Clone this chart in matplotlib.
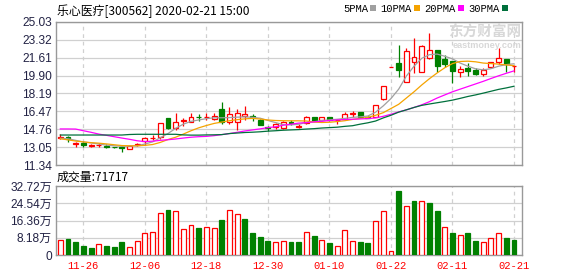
import matplotlib
matplotlib.use("Agg")
import matplotlib.pyplot as plt
from matplotlib.lines import Line2D
import numpy as np

plt.rcParams['font.family'] = ['Liberation Sans', 'Noto Sans CJK SC']

# trading days shown (2019-11-21 .. 2020-02-21)
dates = ['11-21', '11-22', '11-25', '11-26', '11-27', '11-28', '11-29', '12-02', '12-03', '12-04',
         '12-05', '12-06', '12-09', '12-10', '12-11', '12-12', '12-13', '12-16', '12-17', '12-18',
         '12-19', '12-20', '12-23', '12-24', '12-25', '12-26', '12-27', '12-30', '12-31', '01-02',
         '01-03', '01-06', '01-07', '01-08', '01-09', '01-10', '01-13', '01-14', '01-15', '01-16',
         '01-17', '01-20', '01-21', '01-22', '01-23', '02-03', '02-04', '02-05', '02-06', '02-07',
         '02-10', '02-11', '02-12', '02-13', '02-14', '02-17', '02-18', '02-19', '02-20', '02-21']

opens = [13.94, 14.05, 13.36, 13.41, 13.18, 13.22, 13.19, 13.08, 13.03, 12.90,
         13.25, 13.67, 13.93, 14.00, 15.81, 14.88, 15.55, 15.49, 15.95, 15.90,
         15.75, 16.70, 15.49, 15.46, 16.00, 16.00, 15.68, 15.02, 14.98, 14.85,
         15.45, 14.98, 15.33, 15.91, 15.65, 15.91, 15.65, 15.72, 16.19, 16.44,
         15.95, 15.95, 17.65, 20.69, 21.13, 19.26, 21.17, 20.22, 21.55, 22.35,
         21.49, 21.30, 20.27, 20.66, 20.43, 20.05, 20.69, 21.23, 21.46, 20.80]
closes = [13.98, 13.80, 13.40, 13.29, 13.23, 13.27, 13.09, 13.02, 12.98, 13.19,
          13.35, 13.90, 13.96, 15.33, 14.85, 15.43, 15.62, 15.95, 15.90, 15.93,
          16.06, 15.43, 16.20, 16.29, 16.20, 15.90, 15.17, 14.93, 15.24, 15.49,
          15.40, 15.05, 15.97, 15.58, 15.91, 15.62, 15.68, 16.20, 16.29, 15.91,
          15.88, 17.05, 18.90, 20.69, 20.43, 22.25, 21.68, 22.73, 22.35, 20.85,
          21.04, 20.37, 20.50, 20.37, 20.02, 20.43, 21.17, 21.61, 20.98, 20.85]
highs = [14.28, 14.08, 13.57, 13.61, 13.35, 13.42, 13.32, 13.10, 13.13, 13.25,
         13.48, 14.05, 14.22, 15.35, 15.81, 16.29, 15.81, 16.29, 16.22, 16.29,
         16.29, 17.34, 16.86, 16.67, 17.02, 16.22, 15.70, 15.03, 15.39, 15.55,
         15.65, 15.27, 16.03, 15.93, 15.97, 15.93, 15.72, 16.38, 16.51, 16.46,
         16.05, 17.10, 18.93, 20.69, 22.83, 22.57, 23.47, 22.83, 24.01, 22.37,
         21.87, 21.32, 20.82, 21.08, 20.66, 20.66, 21.23, 22.51, 21.48, 20.86]
lows = [13.80, 13.51, 13.03, 13.09, 13.10, 13.06, 12.99, 12.98, 12.56, 12.88,
        13.16, 13.25, 13.74, 13.85, 14.83, 14.69, 15.10, 15.45, 15.55, 15.65,
        15.65, 15.24, 15.27, 14.69, 15.65, 15.55, 15.15, 14.62, 14.76, 14.83,
        15.17, 14.85, 15.30, 15.55, 15.55, 15.58, 15.30, 15.65, 15.91, 15.90,
        15.85, 15.90, 17.60, 20.69, 19.79, 19.24, 20.12, 20.20, 21.53, 20.27,
        20.75, 19.22, 19.79, 19.86, 20.00, 19.86, 20.60, 20.98, 20.27, 20.22]
# volume in 万 shares
volumes = [6.99, 7.47, 6.04, 4.45, 3.18, 5.40, 4.45, 3.65, 6.04, 3.97,
           6.51, 10.32, 11.12, 19.70, 21.28, 20.65, 12.55, 14.45, 12.71, 13.50,
           13.02, 16.52, 21.12, 19.38, 17.00, 10.32, 8.42, 6.51, 6.35, 6.83,
           6.04, 6.04, 11.12, 8.89, 7.31, 5.56, 4.45, 12.07, 6.83, 6.04,
           5.56, 16.36, 20.65, 2.06, 30.34, 23.19, 25.58, 25.42, 24.62, 20.81,
           13.50, 10.32, 9.69, 10.32, 6.51, 6.35, 8.26, 10.64, 7.94, 7.1717]

ma5 = [13.90, 13.85, 13.70, 13.55, 13.45, 13.35, 13.24, 13.18, 13.13, 13.15,
       13.18, 13.35, 13.55, 13.95, 14.35, 14.85, 15.25, 15.52, 15.65, 15.78,
       15.86, 15.86, 15.88, 15.92, 15.95, 15.90, 15.82, 15.60, 15.40, 15.20,
       15.18, 15.24, 15.40, 15.48, 15.60, 15.66, 15.72, 15.80, 15.90, 15.95,
       16.03, 16.40, 17.00, 17.70, 18.60, 19.85, 20.80, 21.55, 21.90, 21.96,
       21.75, 21.50, 21.10, 20.80, 20.55, 20.45, 20.56, 20.80, 20.95, 21.03]
ma10 = [13.85, 13.75, 13.63, 13.55, 13.48, 13.43, 13.36, 13.28, 13.20, 13.18,
        13.18, 13.22, 13.30, 13.50, 13.78, 14.00, 14.30, 14.62, 14.90, 15.12,
        15.32, 15.45, 15.58, 15.68, 15.76, 15.80, 15.74, 15.65, 15.60, 15.58,
        15.57, 15.57, 15.55, 15.45, 15.41, 15.43, 15.50, 15.58, 15.70, 15.80,
        15.90, 16.10, 16.35, 16.75, 17.15, 17.75, 18.35, 19.00, 19.60, 20.15,
        20.65, 21.05, 21.25, 21.28, 21.22, 21.10, 21.05, 21.00, 20.92, 20.85]
ma20 = [14.79, 14.79, 14.78, 14.62, 14.47, 14.30, 14.18, 14.05, 13.92, 13.80,
        13.66, 13.58, 13.62, 13.70, 13.76, 13.83, 13.92, 14.00, 14.05, 14.08,
        14.15, 14.25, 14.35, 14.47, 14.60, 14.70, 14.80, 14.92, 15.00, 15.15,
        15.25, 15.35, 15.40, 15.47, 15.52, 15.60, 15.65, 15.70, 15.72, 15.75,
        15.78, 15.85, 16.00, 16.20, 16.42, 16.62, 16.85, 17.10, 17.40, 17.75,
        18.05, 18.35, 18.60, 18.85, 19.10, 19.35, 19.62, 19.88, 20.12, 20.35]
ma30 = [14.21, 14.21, 14.21, 14.21, 14.21, 14.21, 14.21, 14.21, 14.21, 14.26,
        14.28, 14.28, 14.28, 14.28, 14.28, 14.28, 14.22, 14.20, 14.20, 14.22,
        14.23, 14.25, 14.35, 14.40, 14.45, 14.48, 14.52, 14.58, 14.62, 14.67,
        14.70, 14.73, 14.78, 14.82, 14.88, 14.92, 14.96, 15.04, 15.10, 15.25,
        15.38, 15.55, 15.85, 16.10, 16.40, 16.62, 16.85, 17.05, 17.18, 17.30,
        17.42, 17.55, 17.72, 17.90, 18.05, 18.22, 18.40, 18.58, 18.72, 18.88]

price_ticks = [11.34, 13.05, 14.76, 16.47, 18.19, 19.90, 21.61, 23.32, 25.03]
vol_ticks = [0, 8.18, 16.36, 24.54, 32.72]

ma_names = ['5PMA', '10PMA', '20PMA', '30PMA']
ma_colors = ['#a0a0a0', '#f5a300', '#ff00ff', '#00703c']

RED = '#ff0000'
GREEN = '#008000'
GRID = '#d0d0d0'
FRAME = '#999999'
W, H = 578, 276

o = np.array(opens)
c = np.array(closes)
x = np.arange(len(dates))
up = c >= o
vol_up = np.r_[True, c[1:] >= c[:-1]]
tick_pos = x[3::8]

fig = plt.figure(figsize=(W / 100, H / 100), dpi=100)
ax = fig.add_axes([56 / W, 1 - 165 / H, 466 / W, 143 / H])
axv = fig.add_axes([56 / W, 1 - 255 / H, 466 / W, 69 / H])

for a in (ax, axv):
    a.set_xlim(-0.56, 60.04)
    for s in a.spines.values():
        s.set_color(FRAME)
        s.set_linewidth(1.0)
    a.tick_params(length=0, pad=3, labelsize=8.6, colors='#222244')
    a.set_xticks(tick_pos)
    a.grid(axis='y', color=GRID, lw=0.9)
    for p in tick_pos:
        a.axvline(p, color=GRID, lw=0.9, ls=(0, (3, 3)), zorder=0.5)
    a.set_axisbelow(True)

# price panel
ax.set_ylim(price_ticks[0], price_ticks[-1])
ax.set_yticks(price_ticks, [f'{v:.2f}' for v in price_ticks])
ax.set_xticklabels([])

bw = 0.64
for i in x:
    col = RED if up[i] else GREEN
    ax.vlines(i, lows[i], highs[i], color=col, lw=0.9, zorder=2)
    ax.bar(i, abs(c[i] - o[i]), bw, bottom=min(c[i], o[i]),
           facecolor='white' if up[i] else GREEN, edgecolor=col, lw=0.9, zorder=3)

for vals, clr in zip([ma5, ma10, ma20, ma30], ma_colors):
    ax.plot(x, vals, color=clr, lw=0.9, zorder=4)

ax.text(0.998, 0.985, '东方财富网', transform=ax.transAxes, ha='right', va='top',
        fontsize=10.5, color='#d8d8d8', fontweight='bold', family=['Noto Sans CJK SC'], zorder=1)
ax.text(0.998, 0.87, 'eastmoney.com', transform=ax.transAxes, ha='right', va='top',
        fontsize=6.6, color='#d8d8d8', fontweight='bold', zorder=1)

# volume panel
axv.set_ylim(vol_ticks[0], vol_ticks[-1])
axv.set_yticks(vol_ticks, ['0'] + [f'{v:.2f}万' for v in vol_ticks[1:]])
axv.set_xticks(tick_pos, [dates[i] for i in tick_pos])
for lab in axv.get_xticklabels():
    lab.set_color(RED)
    lab.set_family(['Liberation Mono'])
    lab.set_fontsize(7.6)
axv.tick_params(axis='x', pad=4)
for i in x:
    col = RED if vol_up[i] else GREEN
    axv.bar(i, volumes[i], bw, facecolor='white' if vol_up[i] else GREEN,
            edgecolor=col, lw=0.9, zorder=3)

# header texts
fig.text(57 / W, 1 - 11 / H, '乐心医疗[300562] 2020-02-21 15:00', ha='left', va='center',
         fontsize=8.6, family=['Noto Sans CJK SC'], color='black')
fig.text(57 / W, 1 - 177 / H, f'成交量:{round(volumes[-1] * 10000)}', ha='left', va='center',
         fontsize=8.6, family=['Noto Sans CJK SC'], color='black')

handles = [Line2D([], [], ls='', marker='s', markersize=3.8, color=clr, markeredgewidth=0)
           for clr in ma_colors]
fig.legend(handles, ma_names, loc='center right', bbox_to_anchor=(513 / W, 1 - 9 / H),
           ncol=4, markerfirst=False, frameon=False, handlelength=0.5, handletextpad=0.25,
           columnspacing=0.45, borderpad=0, prop={'family': 'Liberation Mono', 'size': 7.6})

fig.savefig('out.png', dpi=100, facecolor='white')
